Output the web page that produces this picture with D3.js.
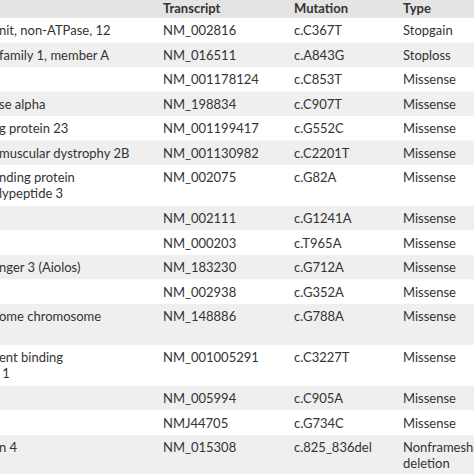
<!DOCTYPE html>
<html><head><meta charset="utf-8">
<script src="https://cdn.jsdelivr.net/npm/d3@7"></script>
<style>body{margin:0;background:#fff}svg{display:block}</style>
</head><body><div id="chart"></div>
<script>
const headers = ['', 'Transcript', 'Mutation', 'Type'];
const genes = ['nit, non-ATPase, 12', 'family 1, member A', '', 'se alpha', 'g protein 23',
	'muscular dystrophy 2B', 'nding protein\nlypeptide 3', '', '', 'nger 3 (Aiolos)', '',
	'ome chromosome\n ', 'ent binding\n 1', '', '', 'n 4'];
const transcripts = ['NM_002816', 'NM_016511', 'NM_001178124', 'NM_198834', 'NM_001199417',
	'NM_001130982', 'NM_002075', 'NM_002111', 'NM_000203', 'NM_183230', 'NM_002938',
	'NM_148886', 'NM_001005291', 'NM_005994', 'NMJ44705', 'NM_015308'];
const mutations = ['c.C367T', 'c.A843G', 'c.C853T', 'c.C907T', 'c.G552C', 'c.C2201T', 'c.G82A',
	'c.G1241A', 'c.T965A', 'c.G712A', 'c.G352A', 'c.G788A', 'c.C3227T', 'c.C905A', 'c.G734C', 'c.825_836del'];
const types = ['Stopgain', 'Stoploss', 'Missense', 'Missense', 'Missense', 'Missense', 'Missense',
	'Missense', 'Missense', 'Missense', 'Missense', 'Missense', 'Missense', 'Missense', 'Missense',
	'Nonframeshift\ndeletion'];

const W = 474, H = 474;
const HEADER_H = 18, LINE_H = 24.5, EXTRA_LINE = 16.5;
const COLS = [-1, 163, 294, 403];

const rows = genes.map((g, i) => [g, transcripts[i], mutations[i], types[i]]);
const nLines = rows.map(r => d3.max(r, c => c.split('\n').length));
const heights = nLines.map(n => LINE_H + (n - 1) * EXTRA_LINE);
const tops = [0, ...d3.cumsum(heights)];
const y = d3.scaleLinear().domain([0, 1]).range([HEADER_H, HEADER_H + 1]);
const x = d3.scaleOrdinal().domain(d3.range(4)).range(COLS);

const svg = d3.select('#chart').append('svg').attr('width', W).attr('height', H)
	.style('font-family', 'Lato, sans-serif').style('font-size', '13px');

svg.append('rect').attr('width', W).attr('height', HEADER_H).attr('fill', '#e4e4e4');
svg.selectAll('text.head').data(headers).enter().append('text')
	.attr('x', (d, i) => x(i)).attr('y', 13).attr('font-weight', 700).attr('fill', '#333')
	.text(d => d);

const g = svg.selectAll('g.row').data(rows).enter().append('g')
	.attr('transform', (d, i) => `translate(0,${y(tops[i])})`);
g.append('rect').attr('width', W).attr('height', (d, i) => heights[i])
	.attr('fill', (d, i) => i % 2 ? '#efefef' : '#ffffff');
g.each(function (r) {
	const row = d3.select(this);
	r.forEach((cell, ci) => {
		const t = row.append('text').attr('x', x(ci)).attr('y', 17).attr('fill', '#333');
		cell.split('\n').forEach((line, li) => {
			t.append('tspan').attr('x', x(ci)).attr('dy', li ? 16 : 0).text(line);
		});
	});
});
</script></body></html>
